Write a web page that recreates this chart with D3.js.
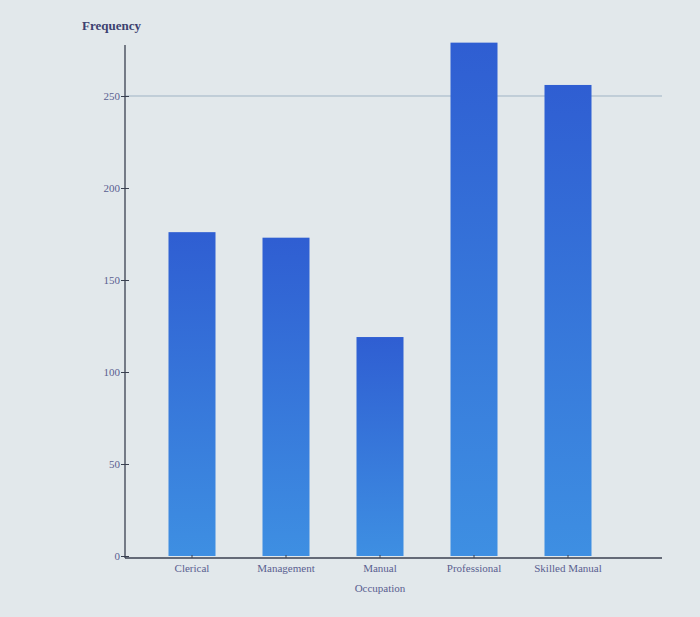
<!DOCTYPE html>
<html><head><meta charset="utf-8">
<script src="https://cdn.jsdelivr.net/npm/d3@7"></script>
<style>body{margin:0;background:#e2e8eb;} svg{display:block;}</style>
</head><body>
<svg id="chart" width="700" height="617"></svg>
<script>
const categories = ["Clerical", "Management", "Manual", "Professional", "Skilled Manual"];
const frequencies = [176, 173, 119, 279, 256];
const yTicks = [0, 50, 100, 150, 200, 250];
const referenceLines = [250];

const svg = d3.select("#chart");
const W = 700, H = 617;
svg.append("rect").attr("width", W).attr("height", H).attr("fill", "#e2e8eb");

const defs = svg.append("defs");
const grad = defs.append("linearGradient").attr("id", "barGrad")
  .attr("x1", 0).attr("y1", 0).attr("x2", 0).attr("y2", 1)
  .attr("gradientUnits", "objectBoundingBox");
grad.append("stop").attr("offset", "0%").attr("stop-color", "#2f5ed2");
grad.append("stop").attr("offset", "100%").attr("stop-color", "#3e8fe2");

const x = d3.scaleBand().domain(categories).range([145, 615]).paddingInner(0.5).paddingOuter(0.25);
const y = d3.scaleLinear().domain([0, 250]).range([556, 96]);

const fontFam = "'Liberation Serif', 'DejaVu Serif', serif";
const textCol = "#3c4170";

// reference gridline
svg.selectAll("line.ref").data(referenceLines).enter().append("line")
  .attr("class", "ref")
  .attr("x1", 125).attr("x2", 662)
  .attr("y1", d => y(d)).attr("y2", d => y(d))
  .attr("stroke", "#9fb3c4").attr("stroke-width", 1);

// bars
svg.selectAll("rect.bar").data(categories).enter().append("rect")
  .attr("class", "bar")
  .attr("x", d => x(d))
  .attr("width", x.bandwidth())
  .attr("y", (d, i) => y(frequencies[i]))
  .attr("height", (d, i) => y(0) - y(frequencies[i]))
  .attr("fill", "url(#barGrad)");

// y axis
const yAxis = svg.append("g").attr("transform", "translate(125,0)")
  .call(d3.axisLeft(y).tickValues(yTicks).tickSize(4).tickSizeOuter(0));
yAxis.select(".domain").remove();
yAxis.append("line").attr("x1", 0).attr("x2", 0).attr("y1", 45).attr("y2", y(0) + 2)
  .attr("stroke", "#3a4050").attr("stroke-width", 1.3);
yAxis.selectAll(".tick line").attr("x2", 4).attr("x1", -4).attr("stroke", "#3a4050");
yAxis.selectAll(".tick text").attr("x", -5)
  .style("font-family", fontFam).style("font-size", "11px").attr("fill", "#5a6090");

// x axis
const xAxis = svg.append("g").attr("transform", `translate(0,${y(0) + 2})`)
  .call(d3.axisBottom(x).tickSize(3).tickSizeOuter(0));
xAxis.select(".domain").remove();
xAxis.append("line").attr("x1", 125).attr("x2", 662).attr("y1", 0).attr("y2", 0)
  .attr("stroke", "#3a4050").attr("stroke-width", 1.3);
xAxis.selectAll(".tick line").attr("y1", -3).attr("y2", 0).attr("stroke", "#3a4050");
xAxis.selectAll(".tick text").attr("y", 6)
  .style("font-family", fontFam).style("font-size", "11px").attr("fill", "#5a6090");

// axis titles
svg.append("text").attr("x", 82).attr("y", 30).text("Frequency")
  .style("font-family", fontFam).style("font-size", "13px").style("font-weight", "bold")
  .attr("fill", textCol);
svg.append("text").attr("x", x("Manual") + x.bandwidth() / 2).attr("y", 592)
  .attr("text-anchor", "middle").text("Occupation")
  .style("font-family", fontFam).style("font-size", "11px").attr("fill", "#5a6090");
</script>
</body></html>
